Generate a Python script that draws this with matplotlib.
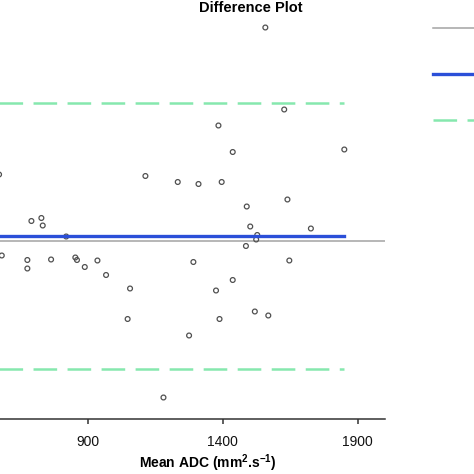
import matplotlib
matplotlib.use("Agg")
import matplotlib.pyplot as plt
from matplotlib.lines import Line2D

plt.rcParams['font.family'] = ['Liberation Sans', 'DejaVu Sans']
plt.rcParams['mathtext.fontset'] = 'custom'
plt.rcParams['mathtext.rm'] = 'Liberation Sans'
plt.rcParams['mathtext.bf'] = 'Liberation Sans:bold'
plt.rcParams['lines.scale_dashes'] = False

# ---- data ----
mean_adc = [1558, 1628, 1384, 1437, 1851, 570, 1113, 1233, 1310, 1396,
            1489, 1640, 690, 727, 732, 1502, 1727, 819, 1528, 1524,
            1486, 580, 675, 675, 763, 853, 859, 888, 935, 967,
            1291, 1647, 1056, 1437, 1375, 1519, 1569, 1047, 1388, 1275,
            1180]
difference = [427, 263, 231, 178, 183, 133, 130, 118, 114, 118,
              69, 83, 40, 46, 31, 29, 25, 9, 12, 3,
              -10, -29, -38, -55, -37, -33, -38, -52, -39, -68,
              -42, -39, -95, -78, -99, -141, -149, -156, -156, -189,
              -313]
bias = 9.4
loa_upper = 276
loa_lower = -256
xticks = [900, 1400, 1900]

GRAY = "#a3a3a3"
BLUE = "#2b4fd8"
GREEN = "#86e8ae"
DASH = (0, (17.0, 7.5))

fig = plt.figure(figsize=(4.74, 4.74), dpi=100)
W = H = 474.0
# axes: left edge off-canvas, right at x=385px; bottom at y=419px, top at y=15px
ax = fig.add_axes([-46.75 / W, 55 / H, 431.75 / W, 404 / H])
ax.set_xlim(400, 2002)
ax.set_ylim(-356, 452)

xmin, xmax = min(mean_adc), max(mean_adc)
ax.axhline(0, color=GRAY, lw=1.1, zorder=1)
ax.scatter(mean_adc, difference, s=12, facecolors='none', edgecolors='#505050',
           linewidths=0.9, zorder=2)
ax.plot([xmin, xmax], [bias, bias], color=BLUE, lw=2.4, zorder=3)
ax.plot([xmin, xmax], [loa_upper, loa_upper], color=GREEN, lw=1.8,
        linestyle=DASH, zorder=3)
ax.plot([xmin, xmax], [loa_lower, loa_lower], color=GREEN, lw=1.8,
        linestyle=DASH, zorder=3)

for s in ['top', 'right', 'left']:
    ax.spines[s].set_visible(False)
ax.spines['bottom'].set_color('#333333')
ax.spines['bottom'].set_linewidth(1.1)
ax.set_yticks([])
ax.set_xticks(xticks)
ax.tick_params(axis='x', direction='out', length=3.8, width=1.1, color='#333333',
               labelsize=10, labelcolor='#111111', pad=8)

ax.set_xlabel(r'Mean ADC (mm$^{\mathbf{2}}$.s$^{\mathbf{-1}}$)', fontsize=10,
              fontweight='bold')
ax.xaxis.set_label_coords((208 + 46.75) / 431.75, -0.083)

fig.text(251 / W, 1 - 1.0 / H, 'Difference Plot', ha='center', va='top',
         fontsize=10.5, fontweight='bold')

# legend (its labels lie beyond the right edge of the picture, only the keys show)
handles = [Line2D([], [], color=GRAY, lw=1.1),
           Line2D([], [], color=BLUE, lw=2.4),
           Line2D([], [], color=GREEN, lw=1.8, linestyle=DASH)]
fig.legend(handles, ["", "", ""], loc='upper left',
           bbox_to_anchor=(433 / W, 1 - 22 / H), frameon=False, borderpad=0,
           borderaxespad=0, handlelength=4.2, labelspacing=2.3, fontsize=10,
           handletextpad=0.8)

fig.savefig('out.png', dpi=100)
